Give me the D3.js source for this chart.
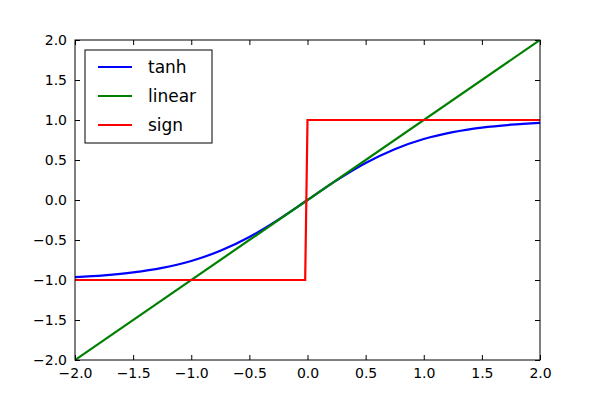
<!DOCTYPE html>
<html><head><meta charset="utf-8">
<script src="https://d3js.org/d3.v7.min.js"></script>
<style>body{margin:0;background:#fff}</style></head>
<body><svg id="c" width="600" height="400"></svg>
<script>
const tanhX = [-2,-1.75,-1.5,-1.25,-1,-0.75,-0.5,-0.25,0,0.25,0.5,0.75,1,1.25,1.5,1.75,2];
const tanhY = [-0.964,-0.941,-0.905,-0.848,-0.762,-0.635,-0.462,-0.245,0,0.245,0.462,0.635,0.762,0.848,0.905,0.941,0.964];
const linearX = [-2,2];
const linearY = [-2,2];
const signX = [-2,-0.02,0,2];
const signY = [-1,-1,1,1];
const ticks = [-2,-1.5,-1,-0.5,0,0.5,1,1.5,2];
const series = [
  {name:"tanh", x:tanhX, y:tanhY, color:"#0000ff"},
  {name:"linear", x:linearX, y:linearY, color:"#008000"},
  {name:"sign", x:signX, y:signY, color:"#ff0000"}
];
const svg = d3.select("#c");
const L=75,R=540,T=40,B=360;
const x = d3.scaleLinear().domain([-2,2]).range([L,R]);
const y = d3.scaleLinear().domain([-2,2]).range([B,T]);
const fmt = d => d.toFixed(1).replace("-","\u2212");
const font = "DejaVu Sans";
function styleAxis(g){g.select(".domain").remove();g.selectAll("text").attr("font-family",font).attr("font-size",14).attr("fill","#000");g.selectAll("line").attr("stroke","#000");}
svg.append("g").attr("transform",`translate(0,${B})`).call(d3.axisBottom(x).tickValues(ticks).tickFormat(fmt).tickSizeInner(-5).tickPadding(8)).call(styleAxis);
svg.append("g").attr("transform",`translate(0,${T})`).call(d3.axisTop(x).tickValues(ticks).tickFormat("").tickSizeInner(-5)).call(styleAxis);
svg.append("g").attr("transform",`translate(${L},0)`).call(d3.axisLeft(y).tickValues(ticks).tickFormat(fmt).tickSizeInner(-5).tickPadding(8)).call(styleAxis);
svg.append("g").attr("transform",`translate(${R},0)`).call(d3.axisRight(y).tickValues(ticks).tickFormat("").tickSizeInner(-5)).call(styleAxis);
svg.append("defs").append("clipPath").attr("id","cp").append("rect").attr("x",L).attr("y",T).attr("width",R-L).attr("height",B-T);
const line = d3.line().x(d=>x(d[0])).y(d=>y(d[1]));
series.forEach(s=>{
  const pts = s.x.map((v,i)=>[v,s.y[i]]);
  svg.append("path").attr("d", line.curve(s.name==="tanh"?d3.curveMonotoneX:d3.curveLinear)(pts))
    .attr("fill","none").attr("stroke",s.color).attr("stroke-width",2.2).attr("clip-path","url(#cp)");
});
svg.append("rect").attr("x",L).attr("y",T).attr("width",R-L).attr("height",B-T).attr("fill","none").attr("stroke","#000");
const lg = svg.append("g");
lg.append("rect").attr("x",85).attr("y",50).attr("width",127).attr("height",93).attr("fill","#fff").attr("stroke","#000");
series.forEach((s,i)=>{
  const yy = 67+i*29;
  lg.append("line").attr("x1",98).attr("x2",132).attr("y1",yy).attr("y2",yy).attr("stroke",s.color).attr("stroke-width",2.2);
  lg.append("text").attr("x",148).attr("y",yy+6).text(s.name).attr("font-family",font).attr("font-size",17);
});
</script></body></html>
